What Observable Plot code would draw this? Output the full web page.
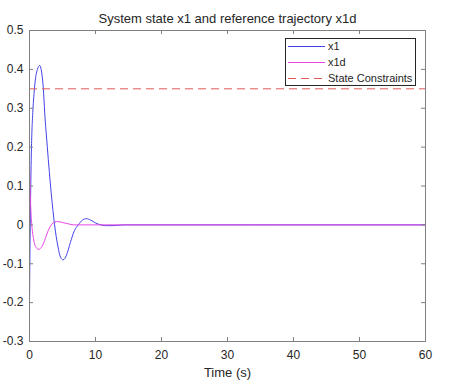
<!DOCTYPE html>
<html><head><meta charset="utf-8">
<script src="https://cdn.jsdelivr.net/npm/d3@7"></script>
<script src="https://cdn.jsdelivr.net/npm/@observablehq/plot@0.6"></script>
<style>body{margin:0;background:#fff}</style>
</head><body><div id="chart"></div>
<script>
const title = "System state x1 and reference trajectory x1d";
const xLabel = "Time (s)";
const xTicks = [0, 10, 20, 30, 40, 50, 60];
const yTicks = [-0.3, -0.2, -0.1, 0, 0.1, 0.2, 0.3, 0.4, 0.5];
const seriesNames = ["x1", "x1d", "State Constraints"];
const seriesColors = ["#4343e8", "#e445e4", "#e05a5a"];

const x1Time  = [0, 0.05, 0.15, 0.3, 0.5, 0.7, 0.9, 1.2, 1.55, 1.9, 2.1, 2.3, 2.7, 3.3, 3.8, 4.3, 4.7, 5.1, 5.6, 6.2, 6.8, 7.4, 8.0, 8.6, 9.3, 10.0, 10.8, 11.5, 12.5, 13.5, 14.5, 60];
const x1Value = [-0.2, -0.1, 0.05, 0.2, 0.29, 0.34, 0.375, 0.40, 0.41, 0.385, 0.35, 0.29, 0.2, 0.08, 0.0, -0.055, -0.083, -0.09, -0.078, -0.045, -0.015, 0.0, 0.012, 0.016, 0.012, 0.005, 0.0, -0.002, -0.002, -0.001, 0, 0];

const x1dTime  = [0, 0.1, 0.2, 0.35, 0.6, 0.9, 1.4, 1.9, 2.4, 2.9, 3.3, 3.8, 4.3, 5.0, 5.8, 6.7, 60];
const x1dValue = [0.16, 0.09, 0.04, 0.0, -0.035, -0.055, -0.063, -0.055, -0.035, -0.012, 0.0, 0.007, 0.0085, 0.006, 0.003, 0.0, 0];

const constraintValue = 0.35;

const W = 474, H = 384, mt = 30, mb = 43, ml = 29, mr = 49;
const fh = H - mt - mb, fw = W - ml - mr;
const axisGray = "#808080";

const x1Data = x1Time.map((t, i) => ({t, v: x1Value[i]}));
const x1dData = x1dTime.map((t, i) => ({t, v: x1dValue[i]}));

const plot = Plot.plot({
  width: W, height: H,
  marginTop: mt, marginBottom: mb, marginLeft: ml, marginRight: mr,
  style: {fontFamily: "'Liberation Sans', Arial, Helvetica, sans-serif", fontSize: "12px", color: "#262626", background: "#fff"},
  x: {domain: [0, 60]},
  y: {domain: [-0.3, 0.5]},
  marks: [
    Plot.line(x1Data, {x: "t", y: "v", stroke: seriesColors[0], strokeWidth: 1, curve: "monotone-x"}),
    Plot.line(x1dData, {x: "t", y: "v", stroke: seriesColors[1], strokeWidth: 1, curve: "monotone-x"}),
    Plot.ruleY([constraintValue], {stroke: seriesColors[2], strokeWidth: 1, strokeDasharray: "8,5"}),
    Plot.frame({stroke: axisGray}),
    Plot.tickX(xTicks, {x: d => d, insetTop: fh - 4, stroke: axisGray}),
    Plot.tickX(xTicks, {x: d => d, insetBottom: fh - 4, stroke: axisGray}),
    Plot.tickY(yTicks, {y: d => d, insetRight: fw - 4, stroke: axisGray}),
    Plot.tickY(yTicks, {y: d => d, insetLeft: fw - 4, stroke: axisGray}),
    Plot.axisX(xTicks, {tickSize: 0, tickPadding: 9, label: null, fontSize: 12}),
    Plot.axisY(yTicks, {tickSize: 0, tickPadding: 6, label: null, fontSize: 12, tickFormat: d => d === 0 ? "0" : d.toFixed(1)}),
    Plot.text([title], {frameAnchor: "top", lineAnchor: "middle", dy: -11.5, fontSize: 13, fill: "#262626"}),
    Plot.text([xLabel], {frameAnchor: "bottom", lineAnchor: "middle", dy: 31.5, fontSize: 13, fill: "#262626"})
  ]
});

// Legend
const svg = d3.select(plot);
const lg = svg.append("g").attr("font-size", 11).attr("text-anchor", "start")
  .attr("font-family", "'Liberation Sans', Arial, sans-serif");
lg.append("rect").attr("x", 285.5).attr("y", 38.5).attr("width", 130).attr("height", 47)
  .attr("fill", "#fff").attr("stroke", "#262626");
const rowY = [46.5, 62.5, 78.5];
seriesNames.forEach((name, i) => {
  lg.append("line").attr("x1", 288).attr("x2", 325).attr("y1", rowY[i]).attr("y2", rowY[i])
    .attr("stroke", seriesColors[i]).attr("stroke-width", 1)
    .attr("stroke-dasharray", i === 2 ? "8,5" : null);
  lg.append("text").attr("x", 328).attr("y", rowY[i]).attr("dy", "0.35em")
    .attr("text-anchor", "start").attr("fill", "#262626").text(name);
});

document.getElementById("chart").appendChild(plot);
</script>
</body></html>
